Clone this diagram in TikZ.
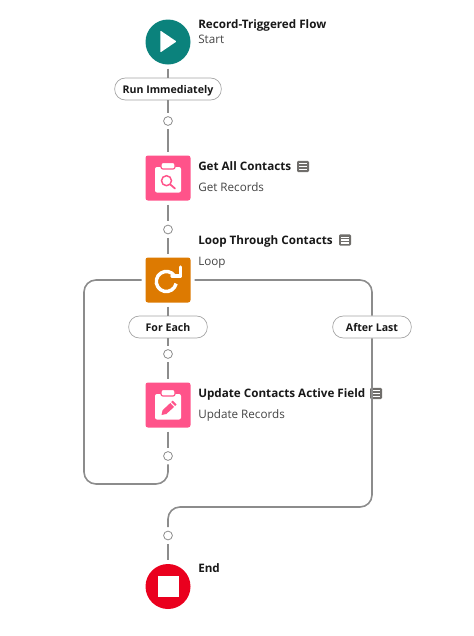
\documentclass[tikz,border=0pt]{standalone}
\usepackage{fontspec}
\setmainfont{Open Sans}
\usetikzlibrary{arrows.meta,positioning,calc}
\definecolor{flowteal}{RGB}{11,130,124}
\definecolor{flowpink}{RGB}{255,83,138}
\definecolor{floworange}{RGB}{221,122,1}
\definecolor{flowred}{RGB}{234,0,30}
\definecolor{flowwire}{RGB}{140,140,140}
\definecolor{flowtext}{RGB}{24,24,24}
\definecolor{flowsub}{RGB}{68,68,68}
\definecolor{flownote}{RGB}{112,110,107}
\tikzset{
  round el/.style={circle, minimum size=33.75pt, inner sep=0pt, outer sep=3pt},
  box el/.style={rectangle, rounded corners=1.8pt, minimum size=33.75pt, inner sep=0pt, outer sep=3pt},
  dotnode/.style={circle, draw=flowwire, fill=white, line width=0.6pt, minimum size=6.6pt, inner sep=0pt, outer sep=3pt},
  pill/.style={draw=flowwire!80, fill=white, rounded corners=8pt, line width=0.5pt, minimum height=16.5pt,
               inner sep=0pt, text height=7.4pt, text depth=1.3pt,
               font=\fontsize{7.95}{10}\selectfont\bfseries, text=flowtext},
  wire/.style={draw=flowwire, line width=1.2pt, rounded corners=9pt},
  title/.style={anchor=west, inner sep=0pt, text height=7.4pt, text depth=1.3pt,
                font=\fontsize{8.75}{10}\selectfont\bfseries, text=flowtext},
  kind/.style={anchor=west, inner sep=0pt, text height=7.4pt, text depth=1.3pt,
               font=\fontsize{8.75}{10}\selectfont, text=flowsub},
  noteicon/.pic={
    \fill[flownote, rounded corners=1pt] (-6,-5.7) rectangle (6,5.7);
    \foreach \yy in {-2.9,0,2.9}
      \draw[white, line width=0.9pt] (-3.6,\yy) -- (3.6,\yy);
  },
  clipicon/.pic={
    \fill[white, rounded corners=1.5pt] (-13,-11) rectangle (13,14.5);
    \fill[white, rounded corners=1.5pt, draw=flowpink, line width=0.9pt] (-7,-15.5) rectangle (7,-9);
  },
}

\begin{document}
\begin{tikzpicture}[x=0.75pt, y=-0.75pt]
\useasboundingbox (0,0) rectangle (474,636);

% elements
\node[round el, fill=flowteal] (start) at (168,42) {};
\node[box el, fill=flowpink] (getrec) at (168,178) {};
\node[box el, fill=floworange] (loopel) at (168,280) {};
\node[box el, fill=flowpink] (update) at (168,405) {};
\node[round el, fill=flowred] (finish) at (168,586.5) {};

% labels on the paths
\node[pill, minimum width=80pt] (runnow) at (168,89) {Run Immediately};
\node[pill, minimum width=59pt] (foreach) at (168,327) {For Each};
\node[pill, minimum width=59pt] (afterlast) at (372,327) {After Last};

% small connectors
\foreach \nm/\yy in {dotrun/121, dotget/229.5, dotfor/354, dotupd/456, dotend/535.5}
  \node[dotnode] (\nm) at (168,\yy) {};

% bend points
\coordinate (backlow) at (168,484);
\coordinate (backleft) at (84,484);
\coordinate (backtop) at (84,280);
\coordinate (railtop) at (372,280);
\coordinate (railbot) at (372,507);
\coordinate (railend) at (168,507);

% texts
\node[title] (starttitle) at (198,24) {Record-Triggered Flow};
\node[kind] (startkind) at (198,39) {Start};
\node[title] (gettitle) at (198,166) {Get All Contacts};
\node[kind] (getkind) at (198,187) {Get Records};
\node[title] (looptitle) at (198,240) {Loop Through Contacts};
\node[kind] (loopkind) at (198,261) {Loop};
\node[title] (updtitle) at (198,393) {Update Contacts Active Field};
\node[kind] (updkind) at (198,414) {Update Records};
\node[title] (endtitle) at (198,568) {End};

\pic at (303,166.5) {noteicon};
\pic at (345,240) {noteicon};
\pic at (376,393.5) {noteicon};

% glyphs
\fill[white, rounded corners=0.6pt] (160.3,30.5) -- (176.5,41.5) -- (160.3,52.5) -- cycle;
\fill[white] (157.5,575.5) rectangle (179,597);

\pic at (168,178) {clipicon};
\draw[flowpink, line width=1.1pt] (166.5,180.7) circle (5);
\draw[flowpink, line width=1.3pt, line cap=round] (170.3,184.5) -- (175,188.5);

\draw[white, line width=2.6pt] (166.3,281.5) ++(12:10) arc (12:322:10);
\draw[white, line width=2.4pt, line cap=round, line join=round] (172,276) -- (180.5,276) -- (180.5,267);

\pic at (168,405) {clipicon};
\fill[flowpink] (161.5,415) -- (162.6,410.2) -- (170.3,403) -- (174,407) -- (166.3,414) -- cycle;
\fill[flowpink] (171.2,402) -- (172.8,400.6) -- (176.5,404.5) -- (175,406) -- cycle;

% connectors
\draw[wire] (start) -- (runnow);
\draw[wire] (runnow) -- (dotrun);
\draw[wire] (dotrun) -- (getrec);
\draw[wire] (getrec) -- (dotget);
\draw[wire] (dotget) -- (loopel);
\draw[wire] (loopel) -- (foreach);
\draw[wire] (foreach) -- (dotfor);
\draw[wire] (dotfor) -- (update);
\draw[wire] (update) -- (dotupd);
\draw[wire] (dotupd) -- (backlow) -- (backleft) -- (backtop) -- (loopel);
\draw[wire] (loopel) -- (railtop) -- (afterlast);
\draw[wire] (afterlast) -- (railbot) -- (railend) -- (dotend);
\draw[wire] (dotend) -- (finish);
\end{tikzpicture}
\end{document}
